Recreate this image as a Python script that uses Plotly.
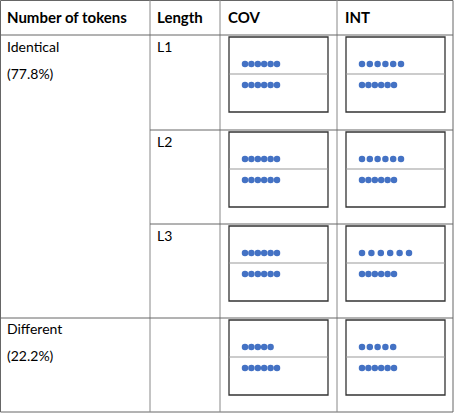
import plotly.graph_objects as go

# table content
token_groups = ["Identical", "Different"]
token_shares = ["(77.8%)", "(22.2%)"]
lengths = ["L1", "L2", "L3", ""]
columns = ["COV", "INT"]

# dots per box: [row][col] -> (top count, top gap, bottom count, bottom gap)
top_counts = [[6, 6], [6, 6], [6, 6], [5, 5]]
top_gaps = [[6.4, 7.8], [6.4, 7.8], [6.4, 9.4], [6.4, 7.8]]
bottom_counts = [[6, 6], [6, 6], [6, 6], [6, 6]]
bottom_gaps = [[6.4, 6.4], [6.4, 6.4], [6.4, 6.4], [6.4, 6.4]]

W, H = 454, 413
col_x = [0, 150, 220, 337, 453]
row_y = [35, 130, 224, 318, 412]
box_x0 = [229, 346]
FONT = "Lato, Carlito, sans-serif"
DOT = "#4472C4"

fig = go.Figure()
shapes = []
ann = []

# grid
shapes.append(dict(type="rect", x0=0.5, x1=453, y0=0.5, y1=412, line=dict(color="#666", width=1)))
for x in col_x[1:-1]:
    shapes.append(dict(type="line", x0=x, x1=x, y0=0, y1=412, line=dict(color="#888", width=1)))
shapes.append(dict(type="line", x0=0, x1=453, y0=row_y[0], y1=row_y[0], line=dict(color="#666", width=1)))
shapes.append(dict(type="line", x0=0, x1=453, y0=row_y[3], y1=row_y[3], line=dict(color="#666", width=1)))
for y in row_y[1:3]:
    shapes.append(dict(type="line", x0=col_x[1], x1=453, y0=y, y1=y, line=dict(color="#666", width=1)))

def txt(x, y, s, bold=False):
    ann.append(dict(x=x, y=y, text="<b>%s</b>" % s if bold else s, showarrow=False,
                    xanchor="left", yanchor="middle",
                    font=dict(family=FONT, size=15 if bold else 14, color="black")))

txt(5, 17, "Number of tokens", True)
txt(155, 17, "Length", True)
for j, c in enumerate(columns):
    txt(col_x[2 + j] + 6, 17, c, True)
txt(5, 46, token_groups[0]); txt(5, 73, token_shares[0])
txt(5, row_y[3] + 10, token_groups[1]); txt(5, row_y[3] + 37, token_shares[1])
for i, L in enumerate(lengths):
    if L:
        txt(155, row_y[i] + 11, L)

for i in range(4):
    top = row_y[i]
    for j in range(2):
        x0 = box_x0[j]
        shapes.append(dict(type="rect", x0=x0, x1=x0 + 99, y0=top + 2, y1=top + 77,
                           line=dict(color="#333", width=1.3)))
        shapes.append(dict(type="line", x0=x0, x1=x0 + 99, y0=top + 39, y1=top + 39,
                           line=dict(color="#999", width=1)))
        xs, ys = [], []
        for k in range(top_counts[i][j]):
            xs.append(x0 + 16 + k * top_gaps[i][j]); ys.append(top + 29)
        for k in range(bottom_counts[i][j]):
            xs.append(x0 + 16 + k * bottom_gaps[i][j]); ys.append(top + 50)
        fig.add_trace(go.Scatter(x=xs, y=ys, mode="markers",
                                 marker=dict(color=DOT, size=6.5), hoverinfo="skip"))

fig.update_layout(width=W, height=H, margin=dict(l=0, r=0, t=0, b=0),
                  plot_bgcolor="white", paper_bgcolor="white", showlegend=False,
                  shapes=shapes, annotations=ann,
                  xaxis=dict(range=[0, W], visible=False, fixedrange=True),
                  yaxis=dict(range=[H, 0], visible=False, fixedrange=True))
fig.write_html("out.html", config={"displayModeBar": False},
               post_script="document.body.style.margin='0';document.body.style.overflow='hidden';")
